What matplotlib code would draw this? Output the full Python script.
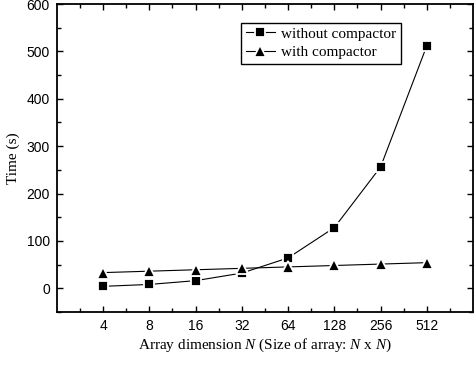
import matplotlib
matplotlib.use('Agg')
import matplotlib.pyplot as plt
import numpy as np

sizes = [4, 8, 16, 32, 64, 128, 256, 512]
without_compactor = [4, 8, 16, 32, 64, 128, 256, 512]
with_compactor = [33, 36, 39, 42, 45, 48, 51, 54]

sans = ['Liberation Sans', 'DejaVu Sans']
serif = ['Liberation Serif', 'DejaVu Serif']
plt.rcParams['mathtext.fontset'] = 'custom'
plt.rcParams['mathtext.rm'] = 'Liberation Serif'
plt.rcParams['mathtext.it'] = 'Liberation Serif:italic'

fig = plt.figure(figsize=(4.74, 3.70), dpi=100)
ax = fig.add_axes([0.120, 0.157, 0.878, 0.832])

pos = np.arange(1, len(sizes) + 1)
ax.plot(pos, without_compactor, '-', color='black', lw=0.8, marker='s', ms=6.5,
        mec='white', mew=1.3, label='without compactor')
ax.plot(pos, with_compactor, '-', color='black', lw=0.8, marker='^', ms=8,
        mec='white', mew=1.3, label='with compactor')

ax.set_xlim(0, 9)
ax.set_ylim(-50, 600)
ax.set_xticks(pos)
ax.set_xticklabels([str(s) for s in sizes], family=sans, fontsize=10)
ax.set_xticks(np.arange(0.5, 9, 1), minor=True)
ax.set_yticks(range(0, 601, 100))
ax.set_yticklabels([str(v) for v in range(0, 601, 100)], family=sans, fontsize=10)
ax.set_yticks(range(-50, 601, 50), minor=True)
ax.tick_params(which='both', direction='in', top=True, right=True, width=1.0)
ax.tick_params(which='major', length=4, pad=5)
ax.tick_params(which='minor', length=3)
for s in ax.spines.values():
    s.set_linewidth(1.3)

ax.set_xlabel('Array dimension $N$ (Size of array: $N$ x $N$)', family=serif, fontsize=11, labelpad=3)
ax.set_ylabel('Time (s)', family=serif, fontsize=11, labelpad=5)

leg = ax.legend(loc='upper right', bbox_to_anchor=(0.826, 0.94), prop={'family': serif, 'size': 11},
                fancybox=False, edgecolor='black', framealpha=1, handlelength=1.9,
                borderpad=0.3, labelspacing=0.3, handletextpad=0.4, borderaxespad=0)
leg.get_frame().set_linewidth(1.0)

fig.savefig('out.png', dpi=100)
